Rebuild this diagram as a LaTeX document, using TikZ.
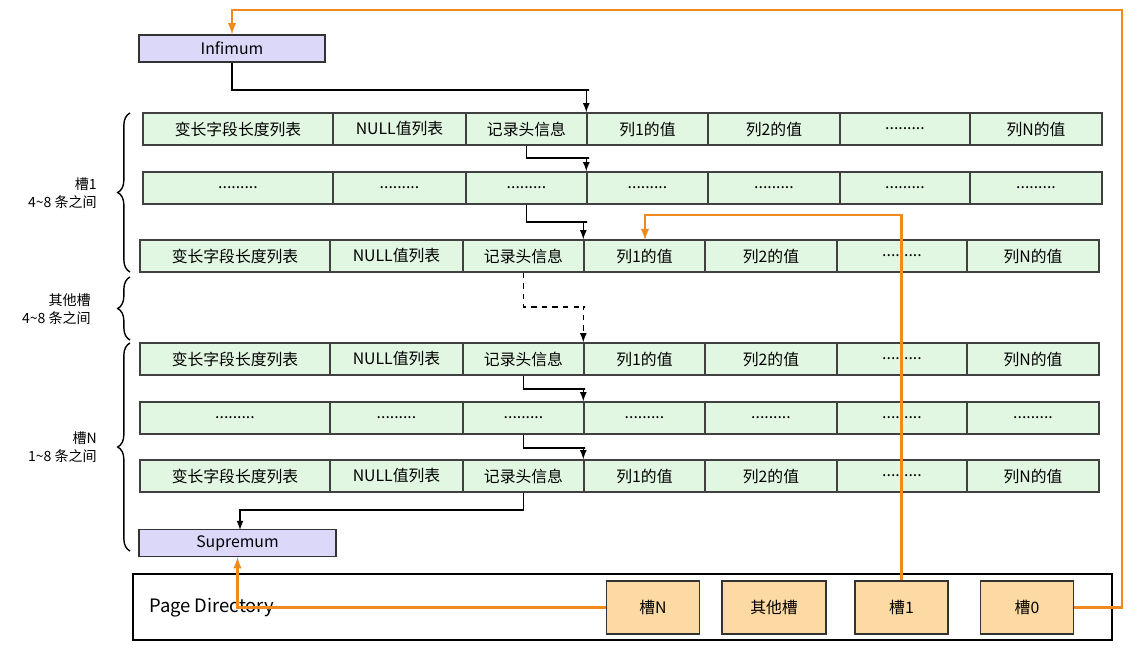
\documentclass[tikz,border=0pt]{standalone}
\usepackage{fontspec}
\setmainfont{Noto Sans CJK SC}
\usetikzlibrary{decorations.pathreplacing}
\definecolor{cellgreen}{HTML}{E2F7E2}
\definecolor{celllav}{HTML}{DCD8FA}
\definecolor{slotor}{HTML}{FDD9A4}
\definecolor{linkor}{HTML}{F08A1C}
\tikzset{cell/.style={draw=black!75,fill=cellgreen,line width=0.8pt,inner sep=0,minimum height=0.64cm,font=\fontsize{9}{11}\selectfont},
  ends/.style={draw=black!80,fill=celllav,line width=0.8pt,inner sep=0,minimum height=0.54cm,font=\fontsize{9}{11}\selectfont},
  slot/.style={draw=black!80,fill=slotor,line width=0.8pt,inner sep=0,minimum width=1.86cm,minimum height=1.06cm,font=\fontsize{9}{11}\selectfont},
  link/.style={line width=0.8pt,-latex},
  olink/.style={line width=1.2pt,color=linkor,-latex},
  side/.style={align=right,anchor=east,font=\fontsize{8}{10}\selectfont},
  grp/.style={decorate,decoration={brace,amplitude=7pt},line width=0.8pt}}
\newcommand\celldots{.........}
\newcommand\fullrow[3]{%
  \foreach \xa/\xb/\t [count=\i] in {143/333/变长字段长度列表,333/466/NULL值列表,466/587/记录头信息,587/708/列1的值,708/840/列2的值,840/970/\celldots,970/1102/列N的值}
    \node[cell,minimum width={(\xb-\xa)*0.02cm}] (#1-\i) at ({(\xa+\xb)/2+#3},#2+16) {\t};}
\newcommand\dotrow[3]{%
  \foreach \xa/\xb [count=\i] in {143/333,333/466,466/587,587/708,708/840,840/970,970/1102}
    \node[cell,minimum width={(\xb-\xa)*0.02cm}] (#1-\i) at ({(\xa+\xb)/2+#3},#2+16) {\celldots};}
\begin{document}
\begin{tikzpicture}[x=0.02cm,y=-0.02cm]
\useasboundingbox (0,0) rectangle (1133,653);
% records
\fullrow{ra}{113}{0}
\dotrow{rb}{172}{0}
\fullrow{rc}{240}{-3}
\fullrow{rd}{343}{-3}
\dotrow{re}{402}{-3}
\fullrow{rf}{460}{-3}
\node[ends,minimum width=3.72cm] (inf) at (232,48.5) {Infimum};
\node[ends,minimum width=3.94cm] (sup) at (237.5,543) {Supremum};
% page directory
\draw[line width=0.8pt] (133,574) rectangle (1112,640);
\node[anchor=west,font=\fontsize{10.5}{12}\selectfont] (pd) at (143,608) {Page Directory};
\node[slot] (sN) at (653,607.5) {槽N};
\node[slot,minimum width=2.08cm] (sO) at (774,607.5) {其他槽};
\node[slot] (s1) at (901.5,607.5) {槽1};
\node[slot] (s0) at (1027,607.5) {槽0};
% next pointers
\draw[link] (inf.south) |- (589,90) -| (ra-4.north west);
\draw[link] (ra-3.south) |- (589,158) -| (rb-4.north west);
\draw[link] (rb-3.south) |- (587,222) -| (rc-4.north west);
\draw[link,dashed] (rc-3.south) |- (585,307) -| (rd-4.north west);
\draw[link] (rd-3.south) |- (585,389) -| (re-4.north west);
\draw[link] (re-3.south) |- (585,448) -| (rf-4.north west);
\draw[link] (rf-3.south) |- (240,510) -| (240,530);
% slot pointers
\draw[olink] (s0.east) -| (1122,10) -| (inf.north);
\draw[olink] (s1.north) |- (645,215) -| (645,240);
\draw[olink] (sN.west) -| (sup.south);
% groups
\draw[grp] (130,272) -- (130,113);
\node[side] (g1) at (103,193) {槽1\\4\textasciitilde8 条之间};
\draw[grp] (130,340) -- (130,277);
\node[side] (g2) at (97,309) {其他槽\\4\textasciitilde8 条之间};
\draw[grp] (130,551) -- (130,343);
\node[side] (g3) at (103,447) {槽N\\1\textasciitilde8 条之间};
\end{tikzpicture}
\end{document}
